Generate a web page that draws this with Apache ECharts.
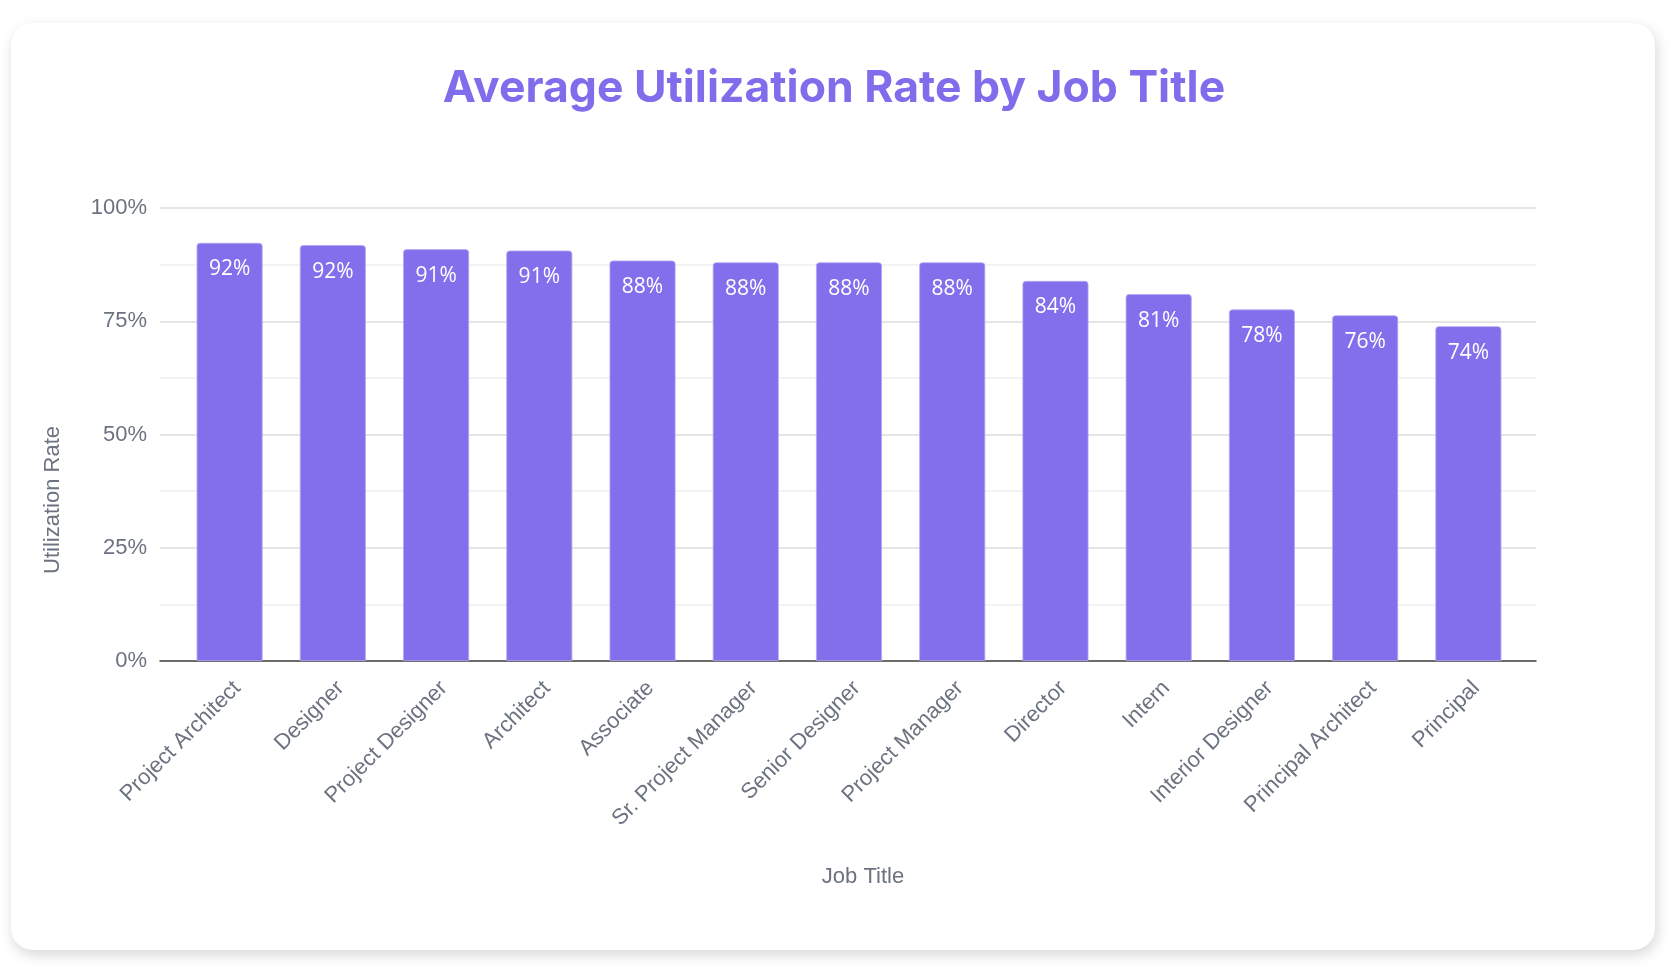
<!DOCTYPE html>
<html>
<head>
<meta charset="utf-8">
<script src="https://cdn.jsdelivr.net/npm/echarts@6/dist/echarts.min.js"></script>
<style>
  html, body { margin: 0; padding: 0; background: #ffffff; width: 1675px; height: 970px; overflow: hidden; }
  #card { position: absolute; left: 11px; top: 23px; width: 1644px; height: 927px; border-radius: 22px;
          background: #ffffff; box-shadow: 2px 5px 14px rgba(0,0,0,0.16); }
  #chart { position: absolute; left: 0; top: 0; width: 1675px; height: 970px; }
</style>
</head>
<body>
<div id="card"></div>
<div id="chart"></div>
<script>
const categories = ["Project Architect", "Designer", "Project Designer", "Architect", "Associate",
  "Sr. Project Manager", "Senior Designer", "Project Manager", "Director", "Intern",
  "Interior Designer", "Principal Architect", "Principal"];
const utilization = [92.3, 91.8, 90.9, 90.6, 88.4, 88.0, 88.0, 88.0, 83.9, 81.0, 77.6, 76.3, 73.9];
const yTicks = [0, 25, 50, 75, 100];

const chart = echarts.init(document.getElementById('chart'), null, { renderer: 'canvas' });
const labelColor = '#6b7280';
const option = {
  backgroundColor: 'transparent',
  animation: false,
  title: {
    text: 'Average Utilization Rate by Job Title',
    left: 829, top: 61, textAlign: 'center',
    textStyle: { fontFamily: 'Inter', fontWeight: 700, fontSize: 44.5, color: '#7f6deb' }
  },
  grid: [
    { left: 160, right: 139, top: 208, bottom: 309 },
    { left: 178, right: 155, top: 208, bottom: 309 }
  ],
  xAxis: [
    { type: 'category', gridIndex: 0, data: [''], axisLine: { show: true, lineStyle: { color: '#444', width: 1.5 } },
      axisTick: { show: false }, axisLabel: { show: false }, splitLine: { show: false } },
    { type: 'category', gridIndex: 1, data: categories,
      axisLine: { show: false }, axisTick: { show: false },
      axisLabel: { rotate: 45, interval: 0, margin: 16, verticalAlign: 'top',
                   fontFamily: 'Liberation Sans', fontSize: 22, color: labelColor } }
  ],
  yAxis: [
    { type: 'value', gridIndex: 0, min: yTicks[0], max: yTicks[yTicks.length - 1], interval: 25,
      axisLine: { show: false }, axisTick: { show: false },
      axisLabel: { formatter: '{value}%', margin: 13, fontFamily: 'Liberation Sans', fontSize: 22, color: labelColor },
      splitLine: { show: true, lineStyle: { color: '#dcdcdc', width: 1.5 } },
      minorTick: { show: false, splitNumber: 2 },
      minorSplitLine: { show: true, lineStyle: { color: '#f0f0f0', width: 1.5 } } },
    { type: 'value', gridIndex: 1, min: 0, max: 100, show: false, splitLine: { show: false } }
  ],
  graphic: [
    { type: 'text', x: 53, y: 500, rotation: Math.PI / 2,
      style: { text: 'Utilization Rate', fontFamily: 'Liberation Sans', fontSize: 22, fill: labelColor,
               align: 'center', verticalAlign: 'middle' } },
    { type: 'text', x: 863, y: 877,
      style: { text: 'Job Title', fontFamily: 'Liberation Sans', fontSize: 22, fill: labelColor,
               align: 'center', verticalAlign: 'middle' } }
  ],
  series: [{
    type: 'bar', xAxisIndex: 1, yAxisIndex: 1, data: utilization, barWidth: 66,
    itemStyle: { color: '#836feb', borderRadius: [3, 3, 0, 0], borderColor: '#b4a8f4', borderWidth: 0.8 },
    label: { show: true, position: 'insideTop', distance: 16, color: '#ffffff',
             fontFamily: 'Open Sans', fontWeight: 400, fontSize: 21,
             formatter: p => Math.round(p.value) + '%' }
  }]
};
chart.setOption(option);
</script>
</body>
</html>
